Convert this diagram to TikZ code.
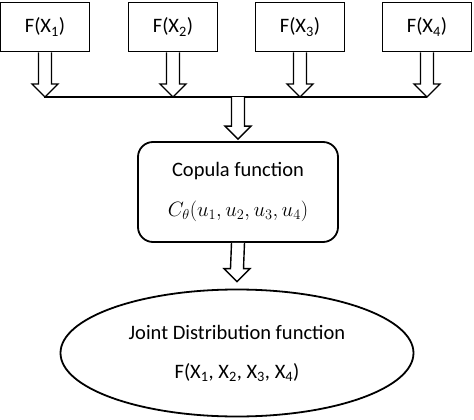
\documentclass[tikz,border=0pt]{standalone}
\usepackage{fontspec}
\setmainfont{Carlito}
\usetikzlibrary{calc,shapes.geometric}
\tikzset{
  fbox/.style={draw, line width=1.8pt, minimum width=89pt, minimum height=49pt, inner sep=0pt, font=\fontsize{20.5}{24}\selectfont},
  copbox/.style={draw, line width=1.8pt, rounded corners=15pt, minimum width=200pt, minimum height=100pt, inner sep=0pt, font=\fontsize{20.5}{24}\selectfont, align=center},
  jointell/.style={draw, ellipse, line width=1.8pt, minimum width=353pt, minimum height=127pt, inner sep=0pt, font=\fontsize{20.5}{24}\selectfont, align=center},
  blockarr/.style={draw, line width=1.4pt, fill=white, line join=miter},
  busline/.style={draw, line width=1.8pt},
}
\newcommand{\blockarrow}[2]{%
  \path[blockarr] ($(#1)+(-6.5,0)$) -- ($(#2)+(-6.5,-13)$) -- ($(#2)+(-13,-13)$) -- (#2) -- ($(#2)+(13,-13)$) -- ($(#2)+(6.5,-13)$) -- ($(#1)+(6.5,0)$);%
}
\newcommand{\copulaformula}{\mbox{$C_\theta(u_1,u_2,u_3,u_4)$}}
\begin{document}
\begin{tikzpicture}[x=1pt,y=-1pt]
\useasboundingbox (0,0) rectangle (474,420);
\node[fbox] (f1) at (45,27) {F(X\textsubscript{1})};
\node[fbox] (f2) at (173,27) {F(X\textsubscript{2})};
\node[fbox] (f3) at (300,27) {F(X\textsubscript{3})};
\node[fbox] (f4) at (427,27) {F(X\textsubscript{4})};
\coordinate (lineL) at (44,97);
\coordinate (lineR) at (427,97);
\coordinate (t1) at (f1.south |- lineL);
\coordinate (t2) at (f2.south |- lineL);
\coordinate (t3) at (f3.south |- lineL);
\coordinate (t4) at (f4.south |- lineL);
\path[busline] (lineL) -- (lineR);
\blockarrow{f1.south}{t1}
\blockarrow{f2.south}{t2}
\blockarrow{f3.south}{t3}
\blockarrow{f4.south}{t4}
\node[copbox] (cop) at (238,192) {Copula function\\[16pt] \copulaformula};
\coordinate (busmid) at (cop.north |- lineL);
\coordinate (ctip) at ($(cop.north)+(0,-2)$);
\blockarrow{busmid}{ctip}
\node[jointell] (joint) at (237,353) {Joint Distribution function\\[15pt] F(X\textsubscript{1}, X\textsubscript{2}, X\textsubscript{3}, X\textsubscript{4})};
\coordinate (jtip) at ($(joint.north)+(0,-7)$);
\blockarrow{cop.south}{jtip}
\end{tikzpicture}
\end{document}
